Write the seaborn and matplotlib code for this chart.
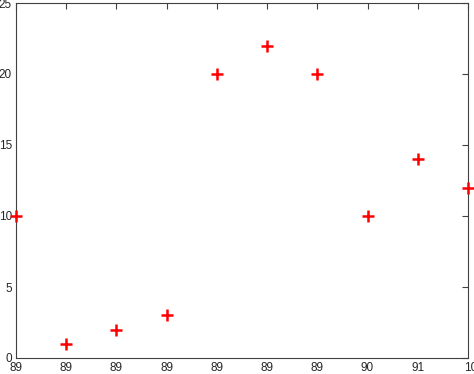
import matplotlib
matplotlib.use("Agg")
import matplotlib.pyplot as plt
import matplotlib.transforms as mtransforms
import seaborn as sns
import numpy as np
import pandas as pd

x_pos = [1, 2, 3, 4, 5, 6, 7, 8, 9, 10]
y_vals = [10, 1, 2, 3, 20, 22, 20, 10, 14, 12]
x_labels = ["89", "89", "89", "89", "89", "89", "89", "90", "91", "100"]
y_ticks = [0, 5, 10, 15, 20, 25]

sns.set_style("white")
plt.rcParams['font.family'] = ['Liberation Sans', 'DejaVu Sans']

fig = plt.figure(figsize=(4.74, 3.74), dpi=100)
ax = fig.add_axes([16/474, 16/374, (468-16)/474, (358-3)/374])

df = pd.DataFrame({"x": x_pos, "y": y_vals})
sns.scatterplot(data=df, x="x", y="y", ax=ax, marker="+", color="#ff0000",
                s=75, linewidth=1.8, clip_on=False, zorder=5)

ax.set_xlim(1, 10)
ax.set_ylim(0, 25)
ax.set_xticks(x_pos)
ax.set_xticklabels(x_labels)
ax.set_yticks(y_ticks)
ax.set_xlabel("")
ax.set_ylabel("")
for s in ax.spines.values():
    s.set_color("#404040")
    s.set_linewidth(0.8)
ax.tick_params(direction="in", top=True, right=True, length=4, width=0.8,
               color="#404040", labelsize=8.5, labelcolor="#262626")
ax.tick_params(axis="x", pad=3)
ax.tick_params(axis="y", pad=3)

last = ax.get_xticklabels()[-1]
last.set_transform(last.get_transform() +
                   mtransforms.ScaledTranslation(6/100, 0, fig.dpi_scale_trans))
fig.savefig("out.png", dpi=100)
